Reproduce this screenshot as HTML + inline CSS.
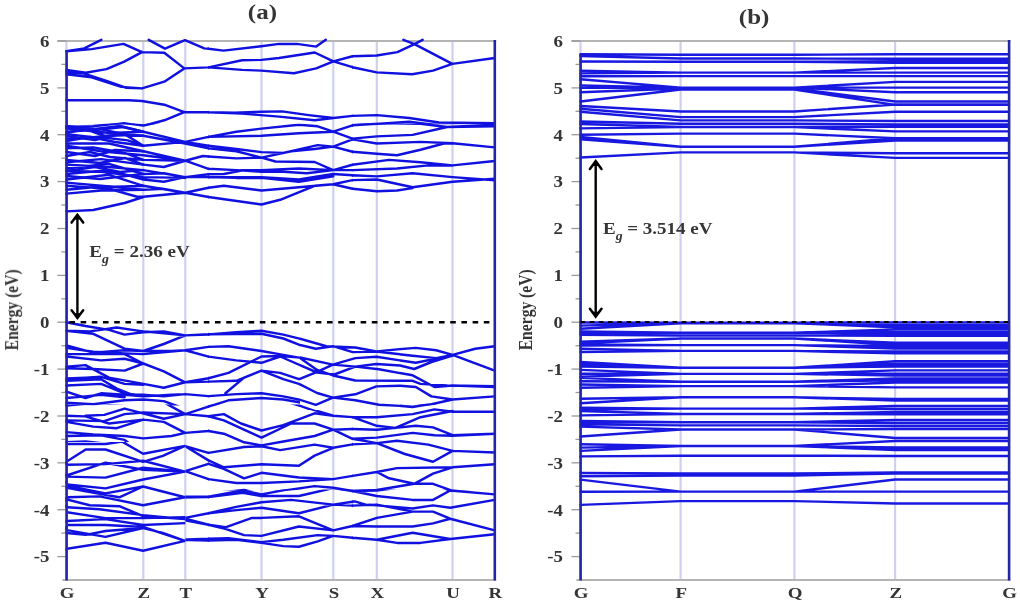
<!DOCTYPE html><html><head><meta charset="utf-8"><style>html,body{margin:0;padding:0;background:#fff;}svg{display:block;filter:blur(0.6px);}text{font-family:"Liberation Serif","Times New Roman",serif;}</style></head><body>
<svg width="1020" height="607" viewBox="0 0 1020 607">
<rect width="1020" height="607" fill="#fff"/>
<line x1="143.3" y1="41.0" x2="143.3" y2="580.0" stroke="#cfd0f0" stroke-width="2.2"/>
<line x1="185.3" y1="41.0" x2="185.3" y2="580.0" stroke="#cfd0f0" stroke-width="2.2"/>
<line x1="261.5" y1="41.0" x2="261.5" y2="580.0" stroke="#cfd0f0" stroke-width="2.2"/>
<line x1="333.3" y1="41.0" x2="333.3" y2="580.0" stroke="#cfd0f0" stroke-width="2.2"/>
<line x1="376.8" y1="41.0" x2="376.8" y2="580.0" stroke="#cfd0f0" stroke-width="2.2"/>
<line x1="452.5" y1="41.0" x2="452.5" y2="580.0" stroke="#cfd0f0" stroke-width="2.2"/>
<line x1="66.4" y1="41.0" x2="66.4" y2="580.0" stroke="#cfd0f0" stroke-width="2.2"/>
<line x1="57.400000000000006" y1="41.0" x2="496.2" y2="41.0" stroke="#b4b4b4" stroke-width="1.8"/>
<line x1="62.400000000000006" y1="580.0" x2="496.2" y2="580.0" stroke="#b4b4b4" stroke-width="1.8"/>
<line x1="57.400000000000006" y1="556.6" x2="66.4" y2="556.6" stroke="#999" stroke-width="1.3"/>
<text transform="translate(49.5,562.4) scale(1.18,1)" font-size="16" font-weight="bold" text-anchor="end" fill="#353535">-5</text>
<line x1="57.400000000000006" y1="509.7" x2="66.4" y2="509.7" stroke="#999" stroke-width="1.3"/>
<text transform="translate(49.5,515.5) scale(1.18,1)" font-size="16" font-weight="bold" text-anchor="end" fill="#353535">-4</text>
<line x1="57.400000000000006" y1="462.8" x2="66.4" y2="462.8" stroke="#999" stroke-width="1.3"/>
<text transform="translate(49.5,468.6) scale(1.18,1)" font-size="16" font-weight="bold" text-anchor="end" fill="#353535">-3</text>
<line x1="57.400000000000006" y1="416.0" x2="66.4" y2="416.0" stroke="#999" stroke-width="1.3"/>
<text transform="translate(49.5,421.8) scale(1.18,1)" font-size="16" font-weight="bold" text-anchor="end" fill="#353535">-2</text>
<line x1="57.400000000000006" y1="369.1" x2="66.4" y2="369.1" stroke="#999" stroke-width="1.3"/>
<text transform="translate(49.5,374.9) scale(1.18,1)" font-size="16" font-weight="bold" text-anchor="end" fill="#353535">-1</text>
<line x1="57.400000000000006" y1="322.2" x2="66.4" y2="322.2" stroke="#999" stroke-width="1.3"/>
<text transform="translate(49.5,328.0) scale(1.18,1)" font-size="16" font-weight="bold" text-anchor="end" fill="#353535">0</text>
<line x1="57.400000000000006" y1="275.4" x2="66.4" y2="275.4" stroke="#999" stroke-width="1.3"/>
<text transform="translate(49.5,281.2) scale(1.18,1)" font-size="16" font-weight="bold" text-anchor="end" fill="#353535">1</text>
<line x1="57.400000000000006" y1="228.5" x2="66.4" y2="228.5" stroke="#999" stroke-width="1.3"/>
<text transform="translate(49.5,234.3) scale(1.18,1)" font-size="16" font-weight="bold" text-anchor="end" fill="#353535">2</text>
<line x1="57.400000000000006" y1="181.6" x2="66.4" y2="181.6" stroke="#999" stroke-width="1.3"/>
<text transform="translate(49.5,187.4) scale(1.18,1)" font-size="16" font-weight="bold" text-anchor="end" fill="#353535">3</text>
<line x1="57.400000000000006" y1="134.7" x2="66.4" y2="134.7" stroke="#999" stroke-width="1.3"/>
<text transform="translate(49.5,140.5) scale(1.18,1)" font-size="16" font-weight="bold" text-anchor="end" fill="#353535">4</text>
<line x1="57.400000000000006" y1="87.9" x2="66.4" y2="87.9" stroke="#999" stroke-width="1.3"/>
<text transform="translate(49.5,93.7) scale(1.18,1)" font-size="16" font-weight="bold" text-anchor="end" fill="#353535">5</text>
<line x1="57.400000000000006" y1="41.0" x2="66.4" y2="41.0" stroke="#999" stroke-width="1.3"/>
<text transform="translate(49.5,46.8) scale(1.18,1)" font-size="16" font-weight="bold" text-anchor="end" fill="#353535">6</text>
<line x1="61.400000000000006" y1="533.1" x2="66.4" y2="533.1" stroke="#999" stroke-width="1.3"/>
<line x1="61.400000000000006" y1="486.3" x2="66.4" y2="486.3" stroke="#999" stroke-width="1.3"/>
<line x1="61.400000000000006" y1="439.4" x2="66.4" y2="439.4" stroke="#999" stroke-width="1.3"/>
<line x1="61.400000000000006" y1="392.5" x2="66.4" y2="392.5" stroke="#999" stroke-width="1.3"/>
<line x1="61.400000000000006" y1="345.7" x2="66.4" y2="345.7" stroke="#999" stroke-width="1.3"/>
<line x1="61.400000000000006" y1="298.8" x2="66.4" y2="298.8" stroke="#999" stroke-width="1.3"/>
<line x1="61.400000000000006" y1="251.9" x2="66.4" y2="251.9" stroke="#999" stroke-width="1.3"/>
<line x1="61.400000000000006" y1="205.0" x2="66.4" y2="205.0" stroke="#999" stroke-width="1.3"/>
<line x1="61.400000000000006" y1="158.2" x2="66.4" y2="158.2" stroke="#999" stroke-width="1.3"/>
<line x1="61.400000000000006" y1="111.3" x2="66.4" y2="111.3" stroke="#999" stroke-width="1.3"/>
<line x1="61.400000000000006" y1="64.4" x2="66.4" y2="64.4" stroke="#999" stroke-width="1.3"/>
<text transform="translate(67.0,597.8) scale(1.22,1)" font-size="15.5" font-weight="bold" text-anchor="middle" fill="#353535">G</text>
<text transform="translate(143.9,597.8) scale(1.22,1)" font-size="15.5" font-weight="bold" text-anchor="middle" fill="#353535">Z</text>
<text transform="translate(185.9,597.8) scale(1.22,1)" font-size="15.5" font-weight="bold" text-anchor="middle" fill="#353535">T</text>
<text transform="translate(262.1,597.8) scale(1.22,1)" font-size="15.5" font-weight="bold" text-anchor="middle" fill="#353535">Y</text>
<text transform="translate(333.90000000000003,597.8) scale(1.22,1)" font-size="15.5" font-weight="bold" text-anchor="middle" fill="#353535">S</text>
<text transform="translate(377.40000000000003,597.8) scale(1.22,1)" font-size="15.5" font-weight="bold" text-anchor="middle" fill="#353535">X</text>
<text transform="translate(453.1,597.8) scale(1.22,1)" font-size="15.5" font-weight="bold" text-anchor="middle" fill="#353535">U</text>
<text transform="translate(495.3,597.8) scale(1.22,1)" font-size="15.5" font-weight="bold" text-anchor="middle" fill="#353535">R</text>
<line x1="680.6" y1="41.0" x2="680.6" y2="580.0" stroke="#cfd0f0" stroke-width="2.2"/>
<line x1="794.4" y1="41.0" x2="794.4" y2="580.0" stroke="#cfd0f0" stroke-width="2.2"/>
<line x1="895.1" y1="41.0" x2="895.1" y2="580.0" stroke="#cfd0f0" stroke-width="2.2"/>
<line x1="580.5" y1="41.0" x2="580.5" y2="580.0" stroke="#cfd0f0" stroke-width="2.2"/>
<line x1="571.5" y1="41.0" x2="1010.5" y2="41.0" stroke="#b4b4b4" stroke-width="1.8"/>
<line x1="576.5" y1="580.0" x2="1010.5" y2="580.0" stroke="#b4b4b4" stroke-width="1.8"/>
<line x1="571.5" y1="556.6" x2="580.5" y2="556.6" stroke="#999" stroke-width="1.3"/>
<text transform="translate(563,562.4) scale(1.18,1)" font-size="16" font-weight="bold" text-anchor="end" fill="#353535">-5</text>
<line x1="571.5" y1="509.7" x2="580.5" y2="509.7" stroke="#999" stroke-width="1.3"/>
<text transform="translate(563,515.5) scale(1.18,1)" font-size="16" font-weight="bold" text-anchor="end" fill="#353535">-4</text>
<line x1="571.5" y1="462.8" x2="580.5" y2="462.8" stroke="#999" stroke-width="1.3"/>
<text transform="translate(563,468.6) scale(1.18,1)" font-size="16" font-weight="bold" text-anchor="end" fill="#353535">-3</text>
<line x1="571.5" y1="416.0" x2="580.5" y2="416.0" stroke="#999" stroke-width="1.3"/>
<text transform="translate(563,421.8) scale(1.18,1)" font-size="16" font-weight="bold" text-anchor="end" fill="#353535">-2</text>
<line x1="571.5" y1="369.1" x2="580.5" y2="369.1" stroke="#999" stroke-width="1.3"/>
<text transform="translate(563,374.9) scale(1.18,1)" font-size="16" font-weight="bold" text-anchor="end" fill="#353535">-1</text>
<line x1="571.5" y1="322.2" x2="580.5" y2="322.2" stroke="#999" stroke-width="1.3"/>
<text transform="translate(563,328.0) scale(1.18,1)" font-size="16" font-weight="bold" text-anchor="end" fill="#353535">0</text>
<line x1="571.5" y1="275.4" x2="580.5" y2="275.4" stroke="#999" stroke-width="1.3"/>
<text transform="translate(563,281.2) scale(1.18,1)" font-size="16" font-weight="bold" text-anchor="end" fill="#353535">1</text>
<line x1="571.5" y1="228.5" x2="580.5" y2="228.5" stroke="#999" stroke-width="1.3"/>
<text transform="translate(563,234.3) scale(1.18,1)" font-size="16" font-weight="bold" text-anchor="end" fill="#353535">2</text>
<line x1="571.5" y1="181.6" x2="580.5" y2="181.6" stroke="#999" stroke-width="1.3"/>
<text transform="translate(563,187.4) scale(1.18,1)" font-size="16" font-weight="bold" text-anchor="end" fill="#353535">3</text>
<line x1="571.5" y1="134.7" x2="580.5" y2="134.7" stroke="#999" stroke-width="1.3"/>
<text transform="translate(563,140.5) scale(1.18,1)" font-size="16" font-weight="bold" text-anchor="end" fill="#353535">4</text>
<line x1="571.5" y1="87.9" x2="580.5" y2="87.9" stroke="#999" stroke-width="1.3"/>
<text transform="translate(563,93.7) scale(1.18,1)" font-size="16" font-weight="bold" text-anchor="end" fill="#353535">5</text>
<line x1="571.5" y1="41.0" x2="580.5" y2="41.0" stroke="#999" stroke-width="1.3"/>
<text transform="translate(563,46.8) scale(1.18,1)" font-size="16" font-weight="bold" text-anchor="end" fill="#353535">6</text>
<line x1="575.5" y1="533.1" x2="580.5" y2="533.1" stroke="#999" stroke-width="1.3"/>
<line x1="575.5" y1="486.3" x2="580.5" y2="486.3" stroke="#999" stroke-width="1.3"/>
<line x1="575.5" y1="439.4" x2="580.5" y2="439.4" stroke="#999" stroke-width="1.3"/>
<line x1="575.5" y1="392.5" x2="580.5" y2="392.5" stroke="#999" stroke-width="1.3"/>
<line x1="575.5" y1="345.7" x2="580.5" y2="345.7" stroke="#999" stroke-width="1.3"/>
<line x1="575.5" y1="298.8" x2="580.5" y2="298.8" stroke="#999" stroke-width="1.3"/>
<line x1="575.5" y1="251.9" x2="580.5" y2="251.9" stroke="#999" stroke-width="1.3"/>
<line x1="575.5" y1="205.0" x2="580.5" y2="205.0" stroke="#999" stroke-width="1.3"/>
<line x1="575.5" y1="158.2" x2="580.5" y2="158.2" stroke="#999" stroke-width="1.3"/>
<line x1="575.5" y1="111.3" x2="580.5" y2="111.3" stroke="#999" stroke-width="1.3"/>
<line x1="575.5" y1="64.4" x2="580.5" y2="64.4" stroke="#999" stroke-width="1.3"/>
<text transform="translate(581.1,597.8) scale(1.22,1)" font-size="15.5" font-weight="bold" text-anchor="middle" fill="#353535">G</text>
<text transform="translate(681.2,597.8) scale(1.22,1)" font-size="15.5" font-weight="bold" text-anchor="middle" fill="#353535">F</text>
<text transform="translate(795.0,597.8) scale(1.22,1)" font-size="15.5" font-weight="bold" text-anchor="middle" fill="#353535">Q</text>
<text transform="translate(895.7,597.8) scale(1.22,1)" font-size="15.5" font-weight="bold" text-anchor="middle" fill="#353535">Z</text>
<text transform="translate(1009.6,597.8) scale(1.22,1)" font-size="15.5" font-weight="bold" text-anchor="middle" fill="#353535">G</text>
<defs><clipPath id="c0"><rect x="-0.6" y="-0.6" width="209.7" height="125.2"/></clipPath><clipPath id="c1"><rect x="207.9" y="-0.6" width="145.2" height="125.2"/></clipPath><clipPath id="c2"><rect x="351.9" y="-0.6" width="668.7" height="125.2"/></clipPath><clipPath id="c3"><rect x="-0.6" y="123.4" width="209.7" height="137.2"/></clipPath><clipPath id="c4"><rect x="207.9" y="123.4" width="145.2" height="137.2"/></clipPath><clipPath id="c5"><rect x="351.9" y="123.4" width="668.7" height="137.2"/></clipPath><clipPath id="c6"><rect x="-0.6" y="259.4" width="209.7" height="146.2"/></clipPath><clipPath id="c7"><rect x="207.9" y="259.4" width="145.2" height="146.2"/></clipPath><clipPath id="c8"><rect x="351.9" y="259.4" width="668.7" height="146.2"/></clipPath><clipPath id="c9"><rect x="-0.6" y="404.4" width="209.7" height="86.2"/></clipPath><clipPath id="c10"><rect x="207.9" y="404.4" width="145.2" height="86.2"/></clipPath><clipPath id="c11"><rect x="351.9" y="404.4" width="668.7" height="86.2"/></clipPath><clipPath id="c12"><rect x="-0.6" y="489.4" width="209.7" height="118.2"/></clipPath><clipPath id="c13"><rect x="207.9" y="489.4" width="145.2" height="118.2"/></clipPath><clipPath id="c14"><rect x="351.9" y="489.4" width="668.7" height="118.2"/></clipPath><mask id="pm" maskUnits="userSpaceOnUse" x="0" y="0" width="1020" height="607"><rect width="1020" height="607" fill="white"/><rect x="300" y="335" width="100" height="75" fill="black"/><rect x="67.5" y="442" width="117.80000000000001" height="115" fill="black"/></mask><clipPath id="p0"><rect x="300" y="335" width="100" height="75"/></clipPath><clipPath id="p1"><rect x="67.5" y="442" width="117.80000000000001" height="115"/></clipPath></defs>
<g fill="none" stroke="#1010e0" stroke-width="2.45" stroke-linejoin="round" stroke-linecap="round"><g mask="url(#pm)"><path clip-path="url(#c0)" d="M66.4 51.3 L84.2 48.4 L101.3 39.8 M66.4 51.3 L91.6 49.1 L123.5 43.9 L142 52.1 M66.4 69.9 L85.7 72.8 L106.5 69.1 L124.2 61.7 L142 52.1 M142 52.1 L164.3 52.8 L184.3 68.4 L208.5 67.4 L212 66.9 M148.7 39.8 L165 48.7 L185 40.2 L204.3 48.4 L208.5 48.7 L212 49.9 M66.4 72.1 L84.2 73.6 L106.5 81 L125.7 87.7 L142 88.4 M66.4 74.3 L91.6 77.3 L121.3 86.9 L142 88.4 M142 88.4 L164.3 81.7 L184.3 68.4 M66.4 100.2 L128.7 100.2 L142 101 L164.3 104.7 L184.3 112.1 L208.5 112.2 L212 112.1 M66.4 126.9 L106.5 125.4 L124.2 123.2 L142 126.2 L164.3 120.3 L184.3 112.1"/><path clip-path="url(#c1)" d="M205 47.6 L208.5 48.7 L223.5 50.6 L261.3 46.2 L279.1 43.9 L296.9 43.9 L316.2 46.6 L325.8 39.8 M205 68.4 L208.5 67.4 L242.1 60.2 L261.3 59.9 L279.1 58 L314.7 52.5 L333.4 61.4 L352.5 67.2 L355 69.1 M205 68.4 L208.5 67.4 L242.1 69.9 L261.3 70.6 L293.9 73.3 L316.2 68.4 L333.4 61.4 L352.5 56.3 L355 55.5 M205 111.4 L208.5 112.2 L234.6 112.8 L261.3 111.7 L282.1 111.4 L308.7 115.1 L333.4 118 L352.5 115.9 L355 115.8 M205 112.1 L208.5 112.2 L242.1 113.6 L279.1 116.6 L314.7 120.3 L333.4 118"/><path clip-path="url(#c2)" d="M350 56.5 L352.5 56.3 L376.7 55.5 L397.4 52.1 L414.5 44.2 L422.6 39.8 M403.4 39.8 L414.5 44.2 L452.3 63.9 L494.7 58 M350 65.4 L352.5 67.2 L376.7 72.4 L412.2 74.3 L433 70.6 L452.3 63.9 M350 115.8 L352.5 115.9 L376.7 115.1 L409.3 118 L438.9 122.5 L494.7 123.2 M350 125.4 L379.6 123.7 L409.3 121.7 L438.9 125.4 L494.7 126.9"/><path clip-path="url(#c3)" d="M66.4 127 L93.3 126.3 L123.1 122.8 L143.3 125.5 L168.5 120 M66.4 128.6 L93.3 130.2 L123.1 127 L143.3 131.7 L185.2 141.9 L208.5 145.8 L212 145.8 M66.4 131.7 L101.1 129.4 L132.5 135.7 L143.3 135.7 L185.2 143.5 L208.5 148.4 L212 149.7 M66.4 134.1 L93.3 137.2 L124.6 134.1 L143.3 145.8 L185.2 141.9 L208.5 136.9 L212 134.9 M66.4 138.8 L101.1 137.2 L127.8 140.4 L143.3 145.8 M66.4 143.5 L109 143.5 L143.3 151.3 L185.2 160.7 M66.4 145.8 L101.1 151.3 L143.3 155.2 L185.2 160.7 L208.5 168.8 L212 170.1 M66.4 148.2 L93.3 147.4 L124.6 152.9 L143.3 159.9 L185.2 160.7 M66.4 162.3 L101.1 159.1 L143.3 164.6 L163.8 167 L185.2 160.7 L202.9 156 L208.5 156.5 L212 156 M66.4 164.6 L109 167 L143.3 170.1 L185.2 177.1 L208.5 174.2 L212 174.8 M66.4 168.5 L109 163.8 L143.3 174 L163.8 173.2 L185.2 177.1 L208.5 177.1 L212 177.1 M66.4 170.9 L101.1 171.7 L143.3 177.1 L185.2 177.9 M66.4 174 L109 170.1 L143.3 179.5 L163.8 181.8 L185.2 177.1 M66.4 179.5 L109 174.8 L143.3 185.8 L185.2 192.8 L208.5 197 L212 198.3 M66.4 182.6 L101.1 185.8 L143.3 189.7 L163.8 188.9 L185.2 192.8 M66.4 185.8 L109 188.9 L137.2 196.7 L143.3 196.7 L185.2 192.8 L208.5 187.8 L212 186.5 M66.4 189.7 L93.3 187.3 L124.6 186.5 L143.3 185.8 M66.4 193.6 L101.1 190.5 L143.3 189.7 M66.4 211.4 L93.3 210 L124.6 203 L143.3 197"/><path clip-path="url(#c4)" d="M205 138.8 L208.5 136.9 L236.3 131.7 L261.5 128.6 L298.9 124.7 L317.7 126.3 L333.2 131.7 L352.5 138.6 L355 139.6 M205 139.6 L208.5 136.9 L261.5 135.7 L298.9 133.3 L333.2 131.7 L352.5 125.4 L355 123.9 M205 145.8 L208.5 145.8 L236.3 149 L261.5 152.1 L283.3 152.9 L317.7 145.1 L333.2 146.6 L352.5 151.8 L355 153.7 M205 147.4 L208.5 148.4 L236.3 151.3 L261.5 157.6 L291.1 151.3 L314.6 149 L333.2 146.6 L352.5 139.4 L355 139.6 M205 156.8 L208.5 156.5 L236.3 158.4 L261.5 157.6 L275.5 161.5 L314.6 162 L333.2 170.1 L352.5 164.8 L355 163.8 M205 168.5 L208.5 168.8 L236.3 170.1 L261.5 171.7 L283.3 171.7 L306.8 173.2 L333.2 170.1 L352.5 170.1 L355 170.1 M205 173.2 L208.5 174.2 L223.8 174 L244.1 170.1 L261.5 170.1 L298.9 168.5 L333.2 170.1 M205 177.1 L208.5 177.1 L261.5 177.1 L298.9 179.5 L333.2 174 L352.5 175.2 L355 174.8 M205 178.7 L208.5 177.1 L236.3 177.9 L261.5 177.9 L298.9 181.8 L333.2 176.4 M205 188.9 L208.5 187.8 L223.8 185.8 L261.5 190.5 L298.9 187.3 L333.2 184.2 L352.5 188.7 L355 188.9 M205 195.9 L208.5 197 L261.5 204.5 L280.2 199.8 L314.6 185.8 L333.2 184.2 L352.5 180.1 L355 180.3"/><path clip-path="url(#c5)" d="M350 127 L352.5 125.4 L376.8 123.9 L412.6 121.9 L452.6 122.3 L494.7 122.3 M350 126.3 L352.5 125.4 L381.3 123.1 L420.5 123.9 L447.1 127 L494.7 126.3 M350 138.8 L352.5 138.6 L376.8 136.4 L412.6 134.9 L447.1 127 L494.7 124.7 M350 138 L352.5 139.4 L376.8 143.5 L420.5 141.9 L452.6 143.2 L494.7 147.4 M350 150.5 L352.5 151.8 L376.8 153.7 L397 155.2 L420.5 149.7 L443.9 143.5 L452.6 143.2 M350 165.4 L352.5 164.8 L389.1 159.9 L420.5 162.3 L452.6 165.4 L494.7 161 M350 170.1 L352.5 170.1 L397 168.5 L428.3 165.4 L452.6 165.4 M350 175.6 L352.5 175.2 L376.8 176.4 L412.6 173.2 L452.6 177.1 L494.7 180.3 M350 179.5 L352.5 180.1 L376.8 179.5 L412.6 187.3 L452.6 181.8 L494.7 178.7 M350 188.9 L352.5 188.7 L376.8 191.2 L397 190.5 L412.6 188.1"/><path clip-path="url(#c6)" d="M66.4 322.2 L85.5 326 L109 329.9 L124.6 334.6 L143.3 332.2 L163.8 331.4 L185.2 335.4 L208.5 334.5 L212 334.6 M66.4 330.7 L90.2 331.4 L116.8 327.5 L132.5 329.9 L143.3 331.4 L185.2 335.4 L208.5 334.3 L212 332.2 M66.4 330.7 L93.3 333.8 L124.6 348.7 L143.3 351 L163.8 344 L185.2 335.4 M66.4 345.5 L93.3 352.6 L124.6 350.2 L143.3 351 L171.6 351 L185.2 350.2 L208.5 346.9 L212 346.3 M66.4 347.9 L93.3 351.8 L124.6 353.4 L143.3 354.1 L185.2 350.2 L208.5 356.6 L212 358.1 M66.4 354.1 L93.3 354.1 L124.6 354.1 L143.3 363.5 L163.8 371.4 L185.2 382.3 L208.5 378.2 L212 376.1 M66.4 356.5 L101.1 360.4 L124.6 358.8 L143.3 363.5 M66.4 368.2 L93.3 369 L124.6 370.6 L143.3 363.5 M66.4 366.7 L85.5 365.1 L109 377.6 L143.3 383.9 L163.8 387.8 L185.2 382.3 L208.5 381.6 L212 380.8 M66.4 378.4 L85.5 377.6 L101.1 376.8 L124.6 383.9 L143.3 384.7 M66.4 380.8 L101.1 379.2 L116.8 388.6 L132.5 394.8 L143.3 394.8 L163.8 396.4 L185.2 394.1 L208.5 396.1 L212 396.4 M66.4 385.5 L101.1 383.9 L124.6 393.3 L143.3 395.6 M66.4 391.7 L85.5 398 L101.1 393.3 L124.6 394.8 L143.3 396.4 L171.6 394.8 L185.2 394.1 M66.4 398 L85.5 396.4 L101.1 394.8 L124.6 397.2 M66.4 402.7 L93.3 404.2 L124.6 400.3 L143.3 399.5 L163.8 401.1 L185.2 408.9 L208.5 406.6 L212 405 M66.4 407.4 L93.3 408.9 L124.6 408.2 L143.3 410"/><path clip-path="url(#c7)" d="M205 334.6 L208.5 334.5 L236.3 332.2 L261.5 330.7 L283.3 334.6 L314.6 342.4 L333.2 346.3 L352.5 346.5 L355 346.3 M205 336.1 L208.5 334.3 L261.5 333.8 L283.3 338.5 L298.9 344.7 L314.6 348.7 L333.2 346.3 L352.5 350.1 L355 352.6 M205 347.1 L208.5 346.9 L228.5 346.3 L261.5 351 L283.3 354.9 L314.6 360.4 L333.2 365.1 L352.5 366.8 L355 363.5 M205 380.8 L208.5 378.2 L228.5 372.9 L261.5 356.5 L280.2 356 L306.8 358.1 L333.2 365.1 L352.5 360.5 L355 359.6 M205 355.7 L208.5 356.6 L236.3 360.4 L261.5 362.8 L280.2 356.5 L317.7 372.9 L333.2 375.3 L352.5 367.8 L355 366.7 M205 382.3 L208.5 381.6 L236.3 380.8 L261.5 370.6 L280.2 372.9 L298.9 379.2 L317.7 372.9 L333.2 366.7 L352.5 366.8 L355 366.7 M225.4 393.3 L244.1 377.6 L261.5 370.6 L283.3 379.2 L298.9 383.9 L317.7 393.3 L333.2 397.2 L352.5 395 L355 394.8 M205 396.4 L208.5 396.1 L236.3 394.1 L261.5 393.3 L283.3 396.4 L314.6 402.7 L333.2 397.2 L352.5 400.3 L355 401.1 M205 408.9 L208.5 406.6 L228.5 400.3 L261.5 398 L283.3 399.5 L314.6 405 L333.2 397.2"/><path clip-path="url(#c8)" d="M350 346.3 L352.5 346.5 L376.8 351 L415.8 347.9 L436.1 350.2 L452.6 354.9 L494.7 370.6 M350 347.9 L352.5 350.1 L365.7 350.2 L376.8 351.8 L412.6 355.7 L436.1 358.1 L452.6 354.9 L475.3 348.7 L494.7 346.3 M350 361.2 L352.5 360.5 L376.8 357 L415.8 362.8 L452.6 355.4 M350 368.2 L352.5 367.8 L376.8 365.1 L397 364.8 L414.2 369 L431.4 362 L452.6 355.7 M350 366.7 L352.5 366.8 L376.8 369 L412.6 375.3 L434.5 387 L452.6 385.5 L494.7 387 M350 379.2 L376.8 380.8 L412.6 380.8 L420.5 383.9 L447.1 385.5 L494.7 386.2 M350 395.6 L352.5 395 L376.8 387 L397 385.5 L415.8 387 L431.4 396.4 L452.6 399.5 L494.7 396.4 M350 399.5 L352.5 400.3 L376.8 404.2 L412.6 406.6 L431.4 404.2 L452.6 399.5 M425.2 410 L452.6 408.6 L494.7 410"/><path clip-path="url(#c9)" d="M66.4 400 L85.5 401.6 L109 403.9 L143.3 401.6 L163.8 402.3 L185.2 414.1 L208.5 406.6 L212 405.5 M66.4 405.5 L93.3 403.1 L124.6 400 M85.5 415.7 L104.3 414.9 L124.6 408.6 L163.8 418.8 L185.2 414.1 M66.4 420.4 L104.3 421.1 L124.6 414.1 L143.3 412.5 L185.2 414.1 L208.5 416.3 L212 416.9 M66.4 415.7 L85.5 416.4 L109 423.5 L143.3 419.6 L163.8 421.9 L185.2 432.9 L208.5 431 L212 429.7 M66.4 421.9 L93.3 426.6 L116.8 428.2 L143.3 419.6 M66.4 432.1 L93.3 434.4 L124.6 436 L143.3 438.4 L171.6 436 L185.2 432.9 L208.5 431 L212 430.5 M66.4 436 L101.1 435.2 L124.6 439.9 L143.3 454 L163.8 450.1 L185.2 446.2 L208.5 460.4 L212 461.8 M66.4 442.3 L85.5 441.5 L105.8 443.8 L124.6 451.7 L143.3 461.8 L163.8 457.9 L185.2 446.2 L208.5 452.9 L212 453.2 M66.4 462.6 L85.5 450.1 L105.8 450.1 L143.3 462.6 L185.2 471.2 L208.5 463.8 L212 462.6 M66.4 464.2 L105.8 462.6 L132.5 464.2 L155.9 467.3 L185.2 471.2 L208.5 479.1 L212 480.6 M66.4 475.2 L105.8 462.6 M66.4 476.7 L109 476.7 L143.3 475.2 L185.2 471.2 M66.4 481.4 L93.3 484.5 L124.6 477.5 L143.3 478.3 L171.6 481.4 M66.4 483 L85.5 486.1 L105.8 487.7 L124.6 484.5 L143.3 485.3 L171.6 493.9 M66.4 487.7 L93.3 490 L124.6 491.6 L143.3 493.9"/><path clip-path="url(#c10)" d="M205 407.8 L208.5 406.6 L223.8 401.6 L261.5 400 L283.3 400.8 L306.8 407.8 L333.2 415.7 L352.5 417.1 L355 417.2 M283.3 400.8 L314.6 405.5 L333.2 400 M205 416.4 L208.5 416.3 L223.8 414.1 L241 423.5 L261.5 430.5 L283.3 425.1 L314.6 413.3 L333.2 415.7 M205 417.2 L208.5 416.3 L223.8 420.4 L261.5 437.6 L291.1 423.5 L314.6 423.5 L333.2 429.7 L352.5 438.8 L355 439.9 M205 430.5 L208.5 431 L223.8 433.7 L244.1 442.3 L261.5 445.4 L283.3 441.5 L314.6 436 L333.2 429.7 L352.5 429 L355 429 M205 454 L208.5 452.9 L244.1 447 L261.5 446.2 L280.2 450.1 L314.6 444.6 L333.2 447.8 L352.5 444.4 L355 443.1 M205 459.5 L208.5 460.4 L223.8 467.3 L261.5 464.2 L298.9 465.8 L314.6 455.6 L333.2 447.8 M205 462.6 L208.5 463.8 L223.8 468.9 L244.1 478.3 L261.5 472.8 L298.9 477.5 L333.2 479.1 L352.5 475.9 L355 475.2 M205 478.3 L208.5 479.1 L236.3 483 L261.5 483 L298.9 481.4 L333.2 479.1 M205 493.9 L244.1 490 L261.5 493.9 L314.6 486.1 L333.2 487.7 L352.5 490.9 L355 491.6"/><path clip-path="url(#c11)" d="M350 400.8 L376.8 403.9 L412.6 407 L436.1 403.1 L452.6 400 L494.7 400 M350 417.2 L352.5 417.1 L376.8 417.2 L412.6 414.1 L434.5 409.4 L452.6 411.7 L494.7 411.7 M350 418 L352.5 417.1 L376.8 425.8 L395.4 427.9 L420.5 417.2 L452.6 411 M350 429 L352.5 429 L376.8 429.7 L395.4 427.9 L415.8 425.8 L433 427.4 L452.6 435.2 L494.7 433.7 M350 437.6 L352.5 438.8 L376.8 437.6 L412.6 432.9 L434.5 435.2 L452.6 435.7 L494.7 433.7 M350 445.4 L352.5 444.4 L376.8 443.1 L397 440.7 L428.3 444.6 L452.6 450.9 L494.7 452.5 M350 438.4 L352.5 438.8 L376.8 443.1 L404.8 454 L433 461.8 L452.6 450.9 M350 476.7 L352.5 475.9 L376.8 472 L397 468.1 L452.6 467.3 L494.7 464.2 M376.8 472 L389.1 478.3 L414.2 483.8 L433 473.6 L452.6 467.3 M350 490.8 L352.5 490.9 L376.8 490 L414.2 483.8 L433 483.8 L452.6 490.8 L494.7 493.9"/><path clip-path="url(#c12)" d="M66.4 486.6 L93.3 488.1 L105.8 489.7 L124.6 487.3 L143.3 486.6 M66.4 488.1 L93.3 491.3 L105.8 494.4 L121.5 496.7 L143.3 486.6 L163.8 491.3 L181 496.7 L208.5 496.8 L212 496.7 M66.4 498.3 L101.1 499.9 L124.6 503 L143.3 503.8 L181 497.5 L208.5 497 L212 496 M66.4 500.7 L85.5 502.2 L109 503 L143.3 504.6 L163.8 510.1 L185.2 517.9 M66.4 505.4 L93.3 505.4 L124.6 508.5 L143.3 516.3 L163.8 517.1 L185.2 517.9 L208.5 513.3 L212 512.4 M66.4 506.9 L93.3 511.6 L124.6 512.4 L143.3 516.3 M66.4 521 L93.3 520.2 L124.6 522.6 L143.3 522.6 L171.6 522.6 L185.2 518.7 L208.5 524.8 L212 524.1 M66.4 521.8 L109 520.2 L132.5 516.3 L155.9 516.3 L185.2 520.2 L208.5 524.8 L212 525.7 M66.4 527.3 L93.3 528.1 L124.6 526.5 L143.3 528.1 L163.8 530.4 L181 539.8 L208.5 538.7 L212 538.2 M66.4 528.8 L85.5 532 L104.3 538.2 L124.6 530.4 L143.3 528.1 M66.4 532 L104.3 538.2 M66.4 549.2 L104.3 543.7 L143.3 551.5 L163.8 547.6 L181 539.8 L208.5 540.5 L212 540.6"/><path clip-path="url(#c13)" d="M205 497.5 L208.5 496.8 L242.6 490.5 L261.5 494.4 L291.1 488.9 L317.7 486.6 L333.2 488.1 L352.5 491 L355 491.3 M205 498.3 L208.5 497 L242.6 492.8 L261.5 496 L298.9 496 L333.2 488.1 M205 512.4 L208.5 513.3 L236.3 506.9 L261.5 502.2 L291.1 499.9 L333.2 504.6 L352.5 505.6 L355 506.9 M205 514 L208.5 513.3 L236.3 510.1 L261.5 507.7 L298.9 513.2 L333.2 504.6 L352.5 501.8 L355 500.7 M205 524.1 L208.5 524.8 L225.4 527.3 L252 517.9 L261.5 517.9 L298.9 516.3 L333.2 530.4 L352.5 526 L355 524.9 M205 525.7 L208.5 524.8 L225.4 528.8 L244.1 535.1 L261.5 535.9 L298.9 526.5 L333.2 530.4 M205 539 L208.5 538.7 L228.5 538.2 L261.5 542.1 L283.3 539.8 L317.7 535.1 L333.2 535.9 L352.5 537.8 L355 538.2 M205 540.6 L208.5 540.5 L236.3 539.8 L261.5 542.9 L283.3 546.1 L298.9 546.8 L317.7 541.4 L333.2 535.9"/><path clip-path="url(#c14)" d="M350 491.3 L352.5 491 L376.8 490.5 L412.6 485.8 L434.5 485 L450.2 490.5 L494.7 494.4 M350 489.7 L352.5 491 L376.8 496 L412.6 499.9 L433 499.9 L450.2 490.5 M350 503.8 L352.5 501.8 L354.7 501.4 L365.7 504.6 L376.8 505.4 L412.6 508.5 L433 505.4 L450.2 507.7 L494.7 499.9 M350 504.6 L352.5 505.6 L376.8 504.6 L412.6 511.6 L433 511.6 L450.2 518.7 L494.7 530.4 M350 527.3 L352.5 526 L376.8 517.9 L412.6 511.6 L433 511.6 M350 526.5 L352.5 526 L376.8 526.5 L412.6 526.5 L433 523.4 L450.2 518.7 M350 537.5 L352.5 537.8 L376.8 539.8 L412.6 532.8 L450.2 539 L494.7 534.3 M350 538.2 L352.5 537.8 L376.8 539.8 L397 542.9 L420.5 542.9 L450.2 539"/><path d="M66.4 126 L95 129 L120 126 L143.3 131.7 M66.4 127.5 L90 131 L110 133 L143.3 131.7 M66.4 133 L85 129 L105 136 L130 135 L143.3 135.7 M66.4 136 L95 140 L120 134 L143.3 135.7 M66.4 141 L90 137 L115 142 L143.3 145.8 M66.4 152 L95 156 L115 150 L143.3 151.3 M66.4 156 L90 152 L110 157 L143.3 159.9 M66.4 160 L100 163 L125 158 L143.3 164.6 M66.4 171 L95 167 L120 172 L143.3 170.1 M66.4 176 L100 179 L143.3 174"/></g><path clip-path="url(#p0)" d="M300 338.8 L326.4 346.2 L355.3 347.5 L376.4 351.5 L400 349.1 M300 345 L315.8 348.8 L332.9 346.2 L352.7 352.1 L376.4 351.5 L400 354.3 M300 357.5 L332.9 364.6 L355.3 366.6 L379 369.3 L400 373.1 M300 357.9 L317.1 369.9 L334.3 375.8 L355.3 380.5 L400 380.8 M300 365.2 L317.1 372.5 L334.3 374.5 L355.3 366.6 L376.4 364 L400 365.5 M300 378.8 L317.1 371.9 L332.9 364.6 L355.3 358.1 L376.4 356.7 L400 360.4 M300 384.4 L317.1 393 L332.9 397.6 L355.3 394.3 L376.4 386.4 L400 385.7 M300 399.8 L315.8 404.8 L332.9 397.6 L355.3 400.2 L379 404.8 L400 405.9 M300 405.8 L326 415"/><path clip-path="url(#p1)" d="M66.3 444 L105.5 444 L125.3 441 L143.1 440 M119.3 440 L143.1 453.8 L185 445.9 M66.3 461.8 L85.7 449.5 L105.5 449.5 L143.1 461.8 L162.8 455.8 L185 445.9 M66.3 464.7 L105.5 464.1 L143.1 460.8 L185 471.6 M66.3 475.6 L105.5 462.7 L143.1 469.7 L185 471.6 M66.3 476.6 L105.5 477.6 L143.1 467.7 L185 471.6 M66.3 484.5 L105.5 488.4 L143.1 479.5 L185 471.6 M66.3 485.5 L105.5 493.4 L143.1 486.5 L185 497.3 M66.3 487.5 L85.7 491.4 L119.3 497.3 L143.1 486.5 M66.3 497.3 L99.5 496.4 L143.1 505.3 L185 497.3 M66.3 499.3 L89.7 505.3 L119.3 506.2 L143.1 516.1 L185 519.1 M66.3 507.2 L99.5 509.2 L143.1 515.1 L185 519.1 M66.3 512.2 L105.5 518.1 L143.1 518.1 L185 517.1 M66.3 521.1 L105.5 519.1 L143.1 525 L185 523.1 M66.3 525 L105.5 525 L143.1 527 L185 540.9 M66.3 530 L105.5 536.9 L143.1 528 L162.8 532.9 L185 540.9 M66.3 532.9 L85.7 534.9 L105.5 531 L143.1 528 M66.3 548.8 L105.5 542.8 L143.1 550.7 L185 540.9"/></g>
<g fill="none" stroke="#1818e0" stroke-width="2.4" stroke-linejoin="round" stroke-linecap="round"><path d="M580.5 54.2 L680.6 54.8 L794.4 54.8 L895.1 54.2 L1009 54.2 M580.5 56 L680.6 58.5 L794.4 58.5 L895.1 58.8 L1009 58.8 M580.5 61.5 L680.6 61.8 L794.4 61.8 L895.1 61.3 L1009 61.3 M580.5 61.5 L680.6 61.8 L794.4 61.8 L895.1 62.8 L1009 62.8 M580.5 70.7 L680.6 72.6 L794.4 72.6 L895.1 68 L1009 68 M580.5 73.2 L680.6 72.6 L794.4 72.6 L895.1 72.6 L1009 72.6 M580.5 76.2 L680.6 76.1 L794.4 76.1 L895.1 76.1 L1009 76.1 M580.5 79.3 L680.6 87.6 L794.4 87.6 L895.1 81.9 L1009 81.9 M580.5 85.4 L680.6 87.6 L794.4 87.6 L895.1 87.6 L1009 87.6 M580.5 87.9 L680.6 87.6 L794.4 87.6 L895.1 92.2 L1009 92.2 M580.5 92.2 L680.6 88.5 L794.4 88.5 L895.1 101.5 L1009 101.5 M580.5 101.5 L680.6 89.5 L794.4 89.5 L895.1 104.9 L1009 104.9 M580.5 106 L680.6 111.5 L794.4 111.5 L895.1 104.5 L1009 104.5 M580.5 108.8 L680.6 117.1 L794.4 117.1 L895.1 111.8 L1009 111.8 M580.5 111.7 L680.6 120.4 L794.4 120.4 L895.1 121 L1009 121 M580.5 121.5 L680.6 123.7 L794.4 123.7 L895.1 124.5 L1009 124.5 M580.5 124 L680.6 127 L794.4 127 L895.1 126.8 L1009 126.8 M580.5 128.4 L680.6 127 L794.4 127 L895.1 131.4 L1009 131.4 M580.5 134.8 L680.6 133.6 L794.4 133.6 L895.1 138.3 L1009 138.3 M580.5 139.4 L680.6 146.8 L794.4 146.8 L895.1 140.6 L1009 140.6 M580.5 137 L680.6 146.8 L794.4 146.8 L895.1 138.3 L1009 138.3 M580.5 157.5 L680.6 152.4 L794.4 152.4 L895.1 157.9 L1009 157.9 M580.5 157.5 L680.6 152.4 L794.4 152.4 L895.1 153.3 L1009 153.3 M580.5 322.5 L680.6 322.6 L794.4 322.6 L895.1 322.4 L1009 322.4 M580.5 325.6 L680.6 322.8 L794.4 322.8 L895.1 325 L1009 325 M580.5 328.7 L680.6 323.2 L794.4 323.2 L895.1 327.3 L1009 327.3 M580.5 331.5 L680.6 332.7 L794.4 332.7 L895.1 329.5 L1009 329.5 M580.5 332.6 L680.6 332.7 L794.4 332.7 L895.1 332.1 L1009 332.1 M580.5 333.5 L680.6 332.7 L794.4 332.7 L895.1 334 L1009 334 M580.5 334.7 L680.6 335.5 L794.4 335.5 L895.1 335.8 L1009 335.8 M580.5 341.7 L680.6 338.5 L794.4 338.5 L895.1 342.7 L1009 342.7 M580.5 343.4 L680.6 338.5 L794.4 338.5 L895.1 345.1 L1009 345.1 M580.5 344.4 L680.6 345.1 L794.4 345.1 L895.1 346.3 L1009 346.3 M580.5 345.5 L680.6 345.1 L794.4 345.1 L895.1 348.6 L1009 348.6 M580.5 348.7 L680.6 350.9 L794.4 350.9 L895.1 351.5 L1009 351.5 M580.5 352 L680.6 350.9 L794.4 350.9 L895.1 353.3 L1009 353.3 M580.5 362 L680.6 367.7 L794.4 367.7 L895.1 361.3 L1009 361.3 M580.5 364.2 L680.6 367.7 L794.4 367.7 L895.1 364 L1009 364 M580.5 366.5 L680.6 367.7 L794.4 367.7 L895.1 366.5 L1009 366.5 M580.5 369.9 L680.6 373.9 L794.4 373.9 L895.1 370.4 L1009 370.4 M580.5 373.8 L680.6 373.9 L794.4 373.9 L895.1 373.8 L1009 373.8 M580.5 376.6 L680.6 373.9 L794.4 373.9 L895.1 375.5 L1009 375.5 M580.5 377.9 L680.6 381.7 L794.4 381.7 L895.1 378.4 L1009 378.4 M580.5 381.2 L680.6 381.7 L794.4 381.7 L895.1 380.2 L1009 380.2 M580.5 384.5 L680.6 386.1 L794.4 386.1 L895.1 382.5 L1009 382.5 M580.5 387.8 L680.6 386.1 L794.4 386.1 L895.1 387.4 L1009 387.4 M580.5 398.8 L680.6 397.3 L794.4 397.3 L895.1 399 L1009 399 M580.5 403.2 L680.6 397.3 L794.4 397.3 L895.1 400.6 L1009 400.6 M580.5 407.7 L680.6 408.6 L794.4 408.6 L895.1 406 L1009 406 M580.5 409.5 L680.6 408.6 L794.4 408.6 L895.1 409 L1009 409 M580.5 411 L680.6 414 L794.4 414 L895.1 412 L1009 412 M580.5 415.4 L680.6 414 L794.4 414 L895.1 414.2 L1009 414.2 M580.5 420.9 L680.6 422.3 L794.4 422.3 L895.1 420 L1009 420 M580.5 422.2 L680.6 422.3 L794.4 422.3 L895.1 423 L1009 423 M580.5 424.4 L680.6 425.4 L794.4 425.4 L895.1 426 L1009 426 M580.5 426.6 L680.6 429.5 L794.4 429.5 L895.1 429 L1009 429 M580.5 436.5 L680.6 429.5 L794.4 429.5 L895.1 438 L1009 438 M580.5 444.3 L680.6 446 L794.4 446 L895.1 441 L1009 441 M580.5 447.6 L680.6 446 L794.4 446 L895.1 447.5 L1009 447.5 M580.5 450.9 L680.6 446 L794.4 446 L895.1 450 L1009 450 M580.5 456.4 L680.6 455.7 L794.4 455.7 L895.1 456 L1009 456 M580.5 473 L680.6 473.4 L794.4 473.4 L895.1 472.5 L1009 472.5 M580.5 476.3 L680.6 475.5 L794.4 475.5 L895.1 473.5 L1009 473.5 M580.5 479.6 L680.6 491.6 L794.4 491.6 L895.1 479.5 L1009 479.5 M580.5 491.7 L680.6 491.6 L794.4 491.6 L895.1 491.6 L1009 491.6 M580.5 504.9 L680.6 501.1 L794.4 501.1 L895.1 503.5 L1009 503.5"/></g>
<line x1="66.6" y1="50.5" x2="66.6" y2="580.5" stroke="#2424a8" stroke-width="2.6"/>
<line x1="494.8" y1="40" x2="494.8" y2="580.5" stroke="#2424a8" stroke-width="2.6"/>
<line x1="580.6" y1="54" x2="580.6" y2="580.5" stroke="#2424a8" stroke-width="2.6"/>
<line x1="1009.1" y1="40" x2="1009.1" y2="580.5" stroke="#2424a8" stroke-width="2.6"/>
<line x1="66.4" y1="322.3" x2="494.7" y2="322.3" stroke="#000" stroke-width="2.4" stroke-dasharray="5.6 5.6" stroke-dashoffset="-3"/>
<line x1="580.5" y1="322.0" x2="1009" y2="322.0" stroke="#000" stroke-width="2.2" stroke-dasharray="4.6 4.6"/>
<line x1="77.4" y1="216.0" x2="77.4" y2="316.8" stroke="#000" stroke-width="2.4"/>
<path d="M71.60000000000001 222.6 L77.4 214.8 L83.2 222.6" fill="none" stroke="#000" stroke-width="2.5" stroke-linecap="round"/>
<path d="M74.0 219.6 L77.4 214.0 L80.80000000000001 219.6 Z" fill="#000"/>
<path d="M71.60000000000001 310.2 L77.4 318.0 L83.2 310.2" fill="none" stroke="#000" stroke-width="2.5" stroke-linecap="round"/>
<path d="M74.0 313.2 L77.4 318.8 L80.80000000000001 313.2 Z" fill="#000"/>
<line x1="595.7" y1="162.4" x2="595.7" y2="315.4" stroke="#000" stroke-width="2.4"/>
<path d="M589.9000000000001 169.0 L595.7 161.20000000000002 L601.5 169.0" fill="none" stroke="#000" stroke-width="2.5" stroke-linecap="round"/>
<path d="M592.3000000000001 166.0 L595.7 160.4 L599.1 166.0 Z" fill="#000"/>
<path d="M589.9000000000001 308.79999999999995 L595.7 316.59999999999997 L601.5 308.79999999999995" fill="none" stroke="#000" stroke-width="2.5" stroke-linecap="round"/>
<path d="M592.3000000000001 311.79999999999995 L595.7 317.4 L599.1 311.79999999999995 Z" fill="#000"/>
<text x="89.3" y="257.3" font-size="16.5" font-weight="bold" fill="#353535" textLength="100.5" lengthAdjust="spacingAndGlyphs">E<tspan font-size="12" font-style="italic" dy="5.5">g</tspan><tspan dy="-5.5"> = 2.36 eV</tspan></text>
<text x="603" y="234.4" font-size="16.5" font-weight="bold" fill="#353535" textLength="109.5" lengthAdjust="spacingAndGlyphs">E<tspan font-size="12" font-style="italic" dy="5.5">g</tspan><tspan dy="-5.5"> = 3.514 eV</tspan></text>
<text transform="translate(262.4,18.8) scale(1.25,1)" font-size="20" font-weight="bold" text-anchor="middle" fill="#353535">(a)</text>
<text transform="translate(754.1,23.6) scale(1.25,1)" font-size="20" font-weight="bold" text-anchor="middle" fill="#353535">(b)</text>
<text transform="translate(17.8,309.8) scale(1.18,1) rotate(-90)" font-size="15.6" font-weight="bold" text-anchor="middle" fill="#353535">Energy (eV)</text>
<text transform="translate(531.8,309.8) scale(1.18,1) rotate(-90)" font-size="15.6" font-weight="bold" text-anchor="middle" fill="#353535">Energy (eV)</text>
</svg></body></html>
